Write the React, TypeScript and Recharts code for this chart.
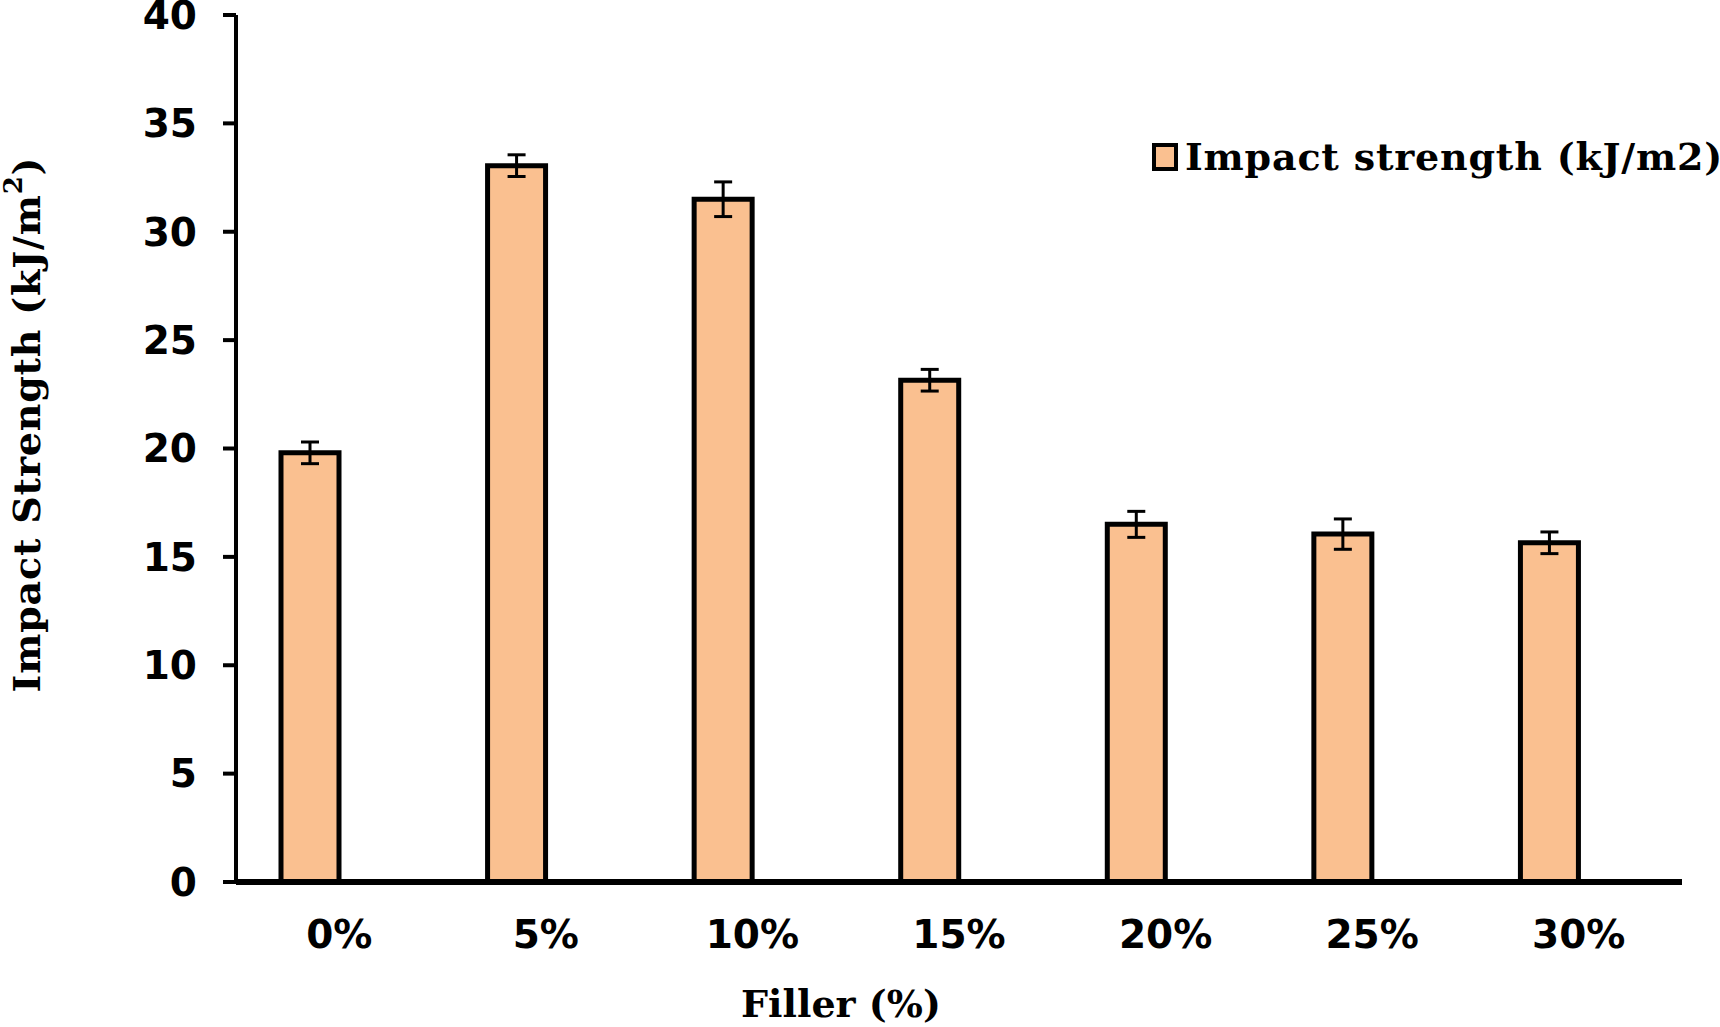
import { Bar, BarChart, ErrorBar, Label, Legend, XAxis, YAxis } from "recharts";

const fillers = ["0%", "5%", "10%", "15%", "20%", "25%", "30%"];
const impactStrength = [19.8, 33.05, 31.5, 23.15, 16.5, 16.05, 15.65];
const impactError = [0.5, 0.5, 0.8, 0.5, 0.6, 0.7, 0.5];
const yTicks = [0, 5, 10, 15, 20, 25, 30, 35, 40];

const data = fillers.map((filler, i) => ({
  filler,
  impact: impactStrength[i],
  err: impactError[i],
}));

const serif = "'DejaVu Serif', serif";
const sans = "'DejaVu Sans', sans-serif";
const tickStyle = { fill: "#000", fontSize: 39, fontWeight: 700, fontFamily: sans };

function LegendBox() {
  return (
    <svg width={568} height={44} style={{ display: "block" }}>
      <rect x={2} y={5} width={22} height={24} fill="#FAC090" stroke="#000" strokeWidth={4} />
      <text
        x={33}
        y={30}
        fontFamily={serif}
        fontWeight={700}
        fontSize={38}
        letterSpacing={0.8}
        fill="#000"
      >
        Impact strength (kJ/m2)
      </text>
    </svg>
  );
}

function YTitle(props: any) {
  const vb = props.viewBox || { x: 0, y: 15, width: 236, height: 867 };
  const cx = vb.x + 26;
  const cy = vb.y + vb.height / 2 - 24;
  return (
    <text
      x={cx}
      y={cy}
      transform={`rotate(-90, ${cx}, ${cy})`}
      textAnchor="middle"
      dominantBaseline="central"
      fontFamily={serif}
      fontWeight={700}
      fontSize={38}
      letterSpacing={0.8}
      fill="#000"
    >
      Impact Strength (kJ/m
      <tspan dy={-13} fontSize={26}>2</tspan>
      <tspan dy={13}>)</tspan>
    </text>
  );
}

function XTitle(props: any) {
  const vb = props.viewBox || { x: 236, y: 882, width: 1446, height: 145 };
  return (
    <text
      x={vb.x + vb.width / 2 - 118}
      y={vb.y + 135}
      textAnchor="middle"
      fontFamily={serif}
      fontWeight={700}
      fontSize={38}
      fill="#000"
    >
      Filler (%)
    </text>
  );
}

export default function App() {
  return (
    <div
      style={{
        position: "absolute",
        left: 0,
        top: 0,
        width: 1720,
        height: 1027,
        overflow: "hidden",
        background: "#fff",
      }}
    >
      <BarChart
        width={1720}
        height={1027}
        data={data}
        margin={{ top: 15, right: 38, left: 0, bottom: 0 }}
        barGap={0}
      >
        <XAxis
          dataKey="filler"
          height={145}
          interval={0}
          tickLine={false}
          tickSize={0}
          tickMargin={38}
          axisLine={{ stroke: "#000", strokeWidth: 6 }}
          tick={tickStyle}
        >
          <Label content={XTitle} />
        </XAxis>
        <YAxis
          width={236}
          domain={[0, 40]}
          ticks={yTicks}
          interval={0}
          tickSize={13}
          tickMargin={26}
          axisLine={{ stroke: "#000", strokeWidth: 4 }}
          tickLine={{ stroke: "#000", strokeWidth: 4 }}
          tick={tickStyle}
        >
          <Label content={YTitle} />
        </YAxis>
        <Legend
          layout="vertical"
          align="center"
          verticalAlign="middle"
          wrapperStyle={{ left: 1152, top: 140, width: "auto" }}
          content={() => <LegendBox />}
        />
        <Bar
          dataKey="impact"
          name="Impact strength (kJ/m2)"
          barSize={58}
          fill="#FAC090"
          stroke="#000"
          strokeWidth={5}
          isAnimationActive={false}
        >
          <ErrorBar
            dataKey="err"
            direction="y"
            width={9}
            stroke="#000"
            strokeWidth={3}
            isAnimationActive={false}
          />
        </Bar>
        <Bar
          dataKey="spacer"
          barSize={58}
          fill="none"
          legendType="none"
          isAnimationActive={false}
        />
      </BarChart>
    </div>
  );
}
